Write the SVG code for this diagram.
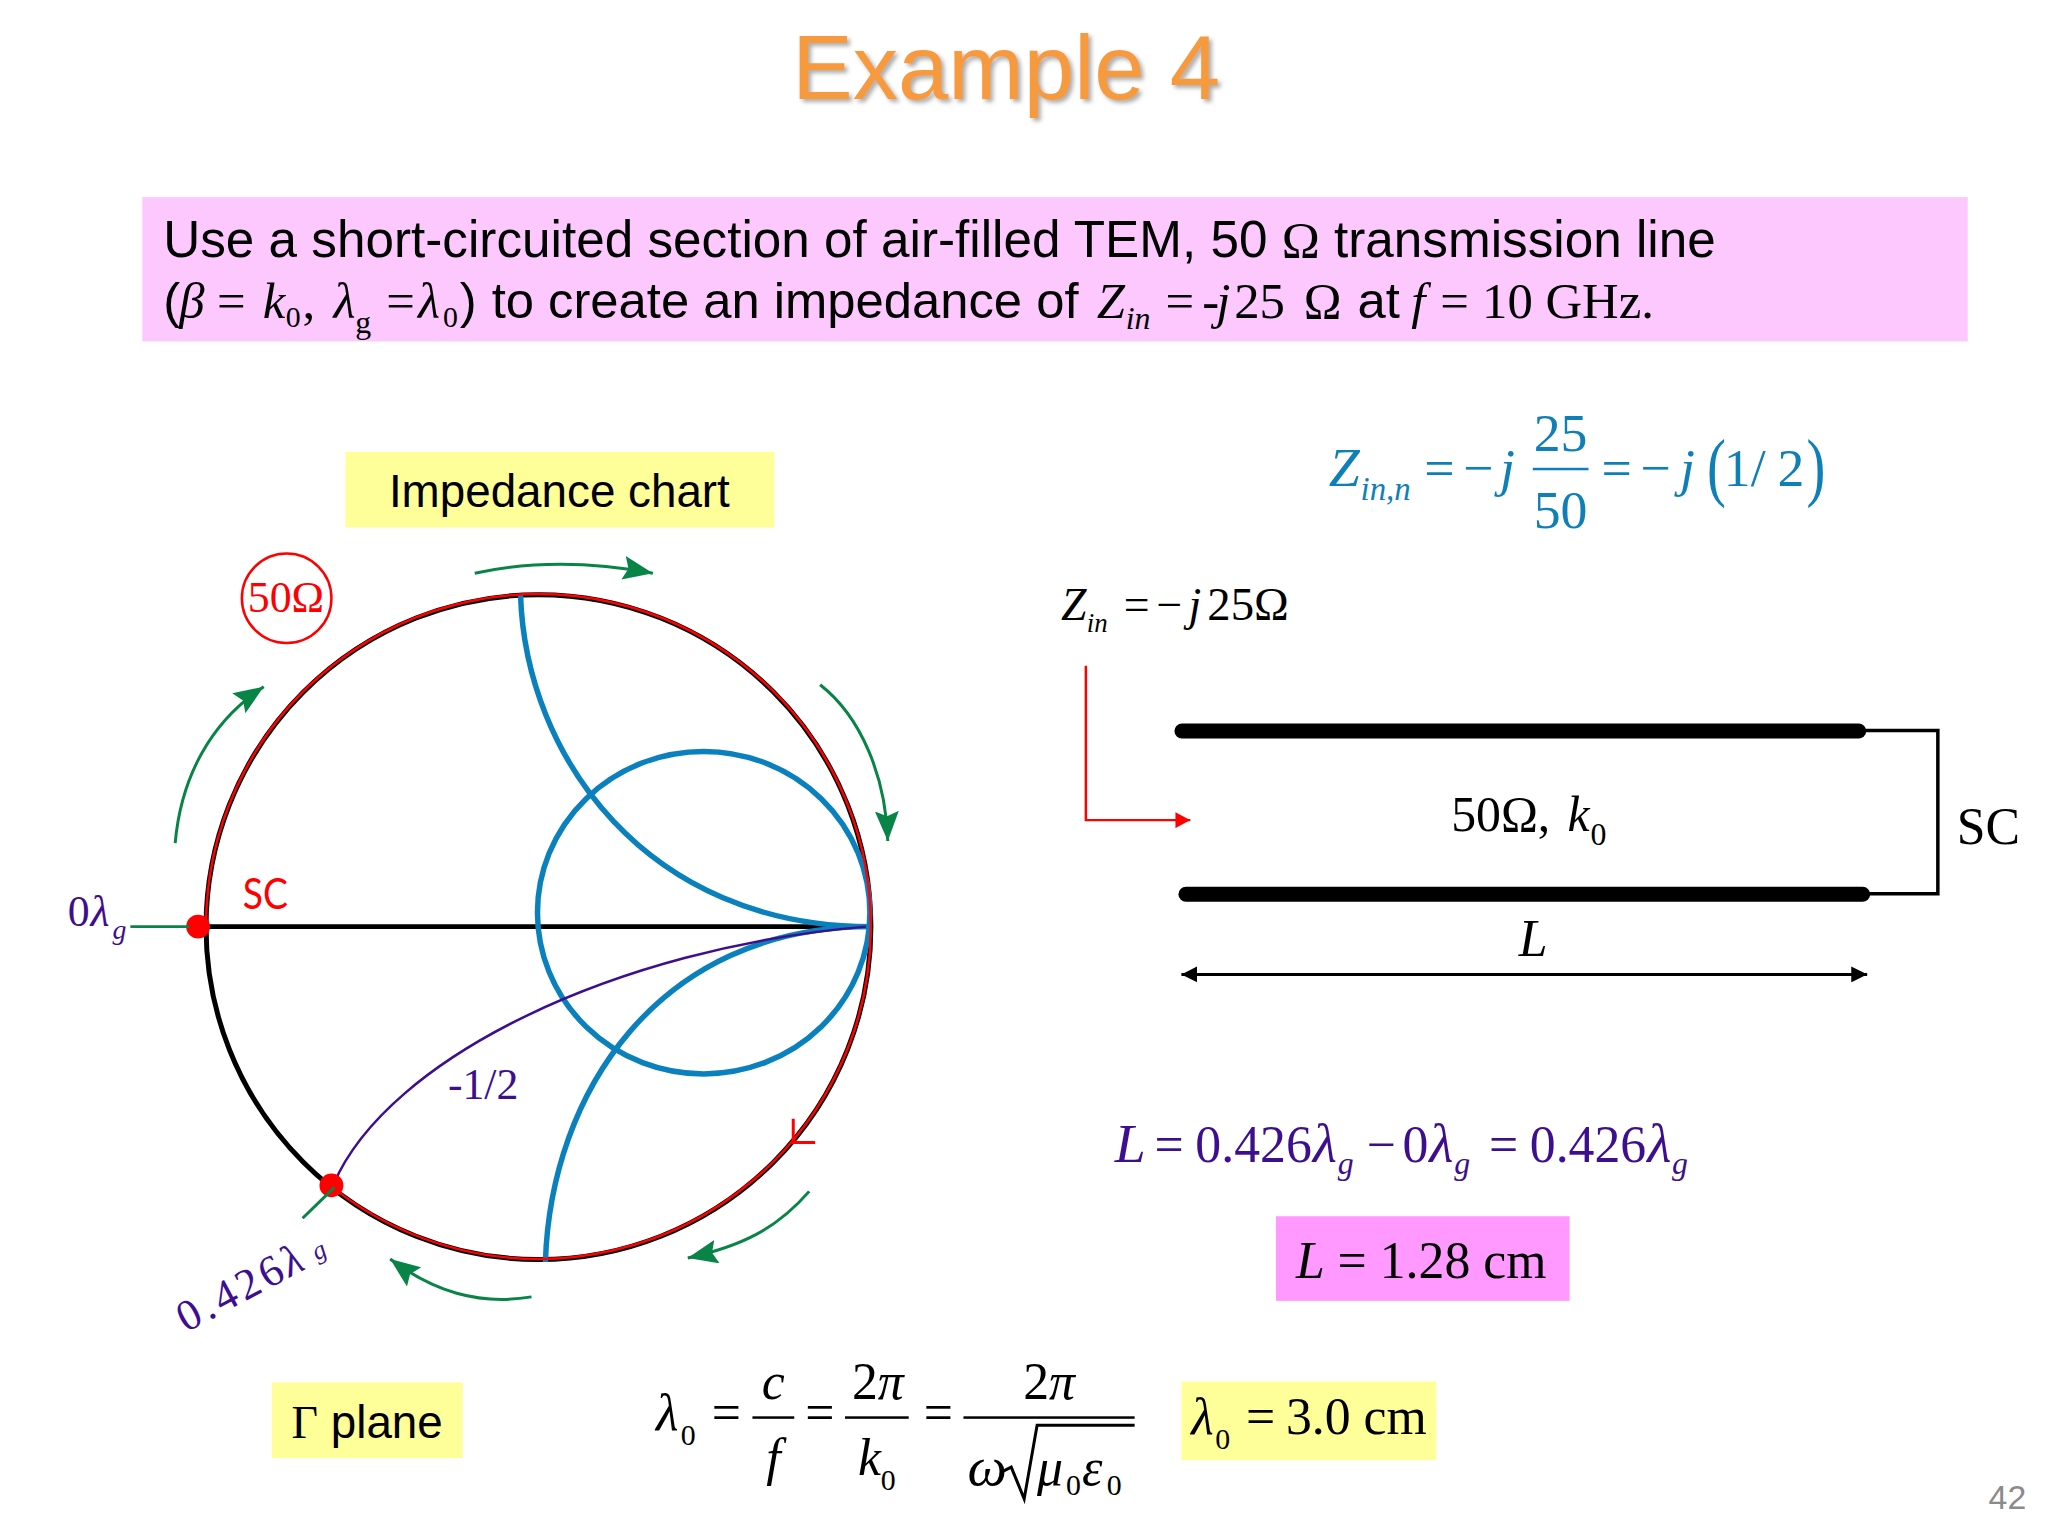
<svg xmlns="http://www.w3.org/2000/svg" width="2048" height="1536" viewBox="0 0 2048 1536">
<style>
.a{font-family:"Liberation Sans",Arial,sans-serif}
.s{font-family:"Liberation Serif","Times New Roman",serif}
.i{font-family:"Liberation Serif","Times New Roman",serif;font-style:italic}
.b{fill:#0f7fb8}.p{fill:#3d0f8f}.r{fill:#f00}
.g{fill:none;stroke:#078446;stroke-width:3}
.bl{fill:none;stroke:#0a80bc;stroke-width:5.5}
</style>
<defs>
<filter id="sh" x="-10%" y="-10%" width="120%" height="130%"><feDropShadow dx="3" dy="3" stdDeviation="2" flood-color="#888" flood-opacity=".7"/></filter>
<marker id="ga" markerUnits="userSpaceOnUse" markerWidth="30" markerHeight="24" refX="30" refY="12" orient="auto"><path d="M0 0L30 12L0 24L5 12z" fill="#078446"/></marker>
<marker id="ra" markerUnits="userSpaceOnUse" markerWidth="15" markerHeight="16" refX="15" refY="8" orient="auto"><path d="M0 0L15 8L0 16z" fill="#f00"/></marker>
<marker id="ke" markerUnits="userSpaceOnUse" markerWidth="16" markerHeight="16" refX="16" refY="8" orient="auto-start-reverse"><path d="M0 0L16 8L0 16z" fill="#000"/></marker>
</defs>
<rect width="2048" height="1536" fill="#fff"/>
<g transform="scale(.9953)">
<g id="title"><text class="a" x="1011" y="99" font-size="91" text-anchor="middle" fill="#f79a3e" filter="url(#sh)">Example 4</text></g>
<g id="problem">
<rect x="143" y="198" width="1834" height="145" fill="#fdc8fd"/>
<g font-size="51">
<text class="a" x="164" y="258" font-size="51.5">Use a short-circuited section of air-filled TEM, 50 <tspan class="s">Ω</tspan> transmission line</text>
<text class="a" x="164" y="319">(</text><text class="i" x="180" y="319">β</text><text class="s" x="218" y="319">=</text><text class="i" x="264" y="319">k</text>
<text class="s" x="287" y="329" font-size="30">0</text><text class="s" x="304" y="319">,</text><text class="i" x="335" y="319">λ</text><text class="s" x="357" y="335" font-size="32">g</text>
<text class="s" x="388" y="319">=</text><text class="i" x="420" y="319">λ</text><text class="s" x="445" y="329" font-size="30">0</text><text class="a" x="462" y="319">)</text>
<text class="a" x="494" y="319">to create an impedance of</text><text class="i" x="1102" y="319">Z</text><text class="i" x="1131" y="331" font-size="32">in</text>
<text class="s" x="1171" y="319">=</text><text class="s" x="1208" y="319">-</text><text class="i" x="1222" y="319">j</text><text class="s" x="1240" y="319">25</text><text class="s" x="1310" y="319">Ω</text>
<text class="a" x="1364" y="319">at</text><text class="i" x="1418" y="319">f</text><text class="s" x="1447" y="319">=</text><text class="s" x="1489" y="319">10 GHz.</text>
</g>
</g>
<g id="chart-label"><rect x="347" y="454" width="431" height="76" fill="#ffff99"/><text class="a" x="562" y="509" font-size="46" text-anchor="middle">Impedance chart</text></g>
<g id="gamma-label"><rect x="273" y="1389" width="192" height="76" fill="#ffff99"/><text x="293" y="1445" font-size="46"><tspan class="s">Γ</tspan><tspan class="a"> plane</tspan></text></g>
<g id="smith-chart">
<circle cx="541" cy="931.5" r="334" fill="none" stroke="#000" stroke-width="5"/>
<path d="M208 931H875" fill="none" stroke="#000" stroke-width="5"/>
<ellipse class="bl" cx="707" cy="917" rx="167" ry="162"/>
<path class="bl" d="M523 598C528 760 650 931 875 931"/>
<path class="bl" d="M548 1268C553 1100 660 931 875 931"/>
<path d="M335 1190C390 1062 620 952 870 931" fill="none" stroke="#3d0f8f" stroke-width="2.5"/>
<path d="M207 930A334 334 0 1 1 334 1193" fill="none" stroke="#f00" stroke-width="2.5"/>
<path d="M797 1124V1148H819" fill="none" stroke="#f00" stroke-width="3"/>
<circle cx="199" cy="931" r="12" fill="#f00"/><circle cx="333" cy="1191" r="12" fill="#f00"/>
</g>
<g id="chart-connectors">
<path class="g" d="M131 931H190"/><path class="g" d="M304 1224L336 1193"/>
<path class="g" marker-end="url(#ga)" d="M176 847C182 780 212 725 265 690"/>
<path class="g" marker-end="url(#ga)" d="M477 576Q560 558 656 576"/>
<path class="g" marker-end="url(#ga)" d="M824 688C865 720 890 780 892 845"/>
<path class="g" marker-end="url(#ga)" d="M813 1197C780 1235 745 1252 691 1264"/>
<path class="g" marker-end="url(#ga)" d="M534 1303C480 1312 435 1297 392 1265"/>
<path d="M1091 669V824H1196" fill="none" stroke="#f00" stroke-width="2.5" marker-end="url(#ra)"/>
<path d="M1187 979H1876" fill="none" stroke="#000" stroke-width="3" marker-start="url(#ke)" marker-end="url(#ke)"/>
</g>
<g id="chart-text">
<g id="ohm50"><circle cx="288" cy="601" r="45" fill="none" stroke="#f00" stroke-width="2.5"/><text class="s r" x="249" y="615" font-size="44">50Ω</text></g>
<text transform="translate(244 913) scale(.87 1)" font-size="43" fill="#f00" font-family="Lato,'Noto Sans',sans-serif">SC</text>
<text class="s p" x="450" y="1104" font-size="44">-1/2</text>
<text class="s p" x="68" y="930" font-size="44">0</text><text class="i p" x="91" y="930" font-size="44">λ</text><text class="i p" x="113" y="943" font-size="28">g</text>
<g transform="translate(187 1339) rotate(-28)"><text class="s p" font-size="44" letter-spacing="4">0.426</text><text class="i p" x="118" font-size="44">λ</text><text class="i p" x="150" y="-2" font-size="26">g</text></g>
</g>
<g id="formula-zn" font-size="54">
<text class="i b" x="1335" y="488" font-size="56">Z</text><text class="i b" x="1367" y="502" font-size="33">in,n</text>
<text class="s b" x="1431" y="488">=</text><text class="s b" x="1470" y="488">−</text><text class="i b" x="1507" y="488">j</text>
<text class="s b" x="1568" y="453" text-anchor="middle">25</text><text class="s b" x="1568" y="530" text-anchor="middle">50</text>
<rect x="1540" y="470" width="56" height="2.5" fill="#0f7fb8"/>
<text class="s b" x="1609" y="488">=</text><text class="s b" x="1648" y="488">−</text><text class="i b" x="1688" y="488">j</text>
<text class="s b" transform="translate(1715 494) scale(.75 1)" font-size="76">(</text><text class="s b" x="1732" y="488">1</text><text class="s b" x="1759" y="488">/</text><text class="s b" x="1786" y="488">2</text><text class="s b" transform="translate(1815 494) scale(.75 1)" font-size="76">)</text>
</g>
<g id="formula-zin" font-size="46">
<text class="i" x="1066" y="623">Z</text><text class="i" x="1092" y="635" font-size="27">in</text>
<text class="s" x="1129" y="623">=</text><text class="s" x="1162" y="623">−</text><text class="i" x="1194" y="623">j</text><text class="s" x="1213" y="623" font-size="47">25Ω</text>
</g>
<g id="tline">
<rect x="1180" y="727" width="695" height="15" rx="7.5"/>
<rect x="1184" y="891" width="695" height="15" rx="7.5"/>
<path d="M1870 734H1947V898H1875" fill="none" stroke="#000" stroke-width="3.5"/>
<text class="s" x="1966" y="848" font-size="52">SC</text>
<text class="s" x="1458" y="835" font-size="50">50Ω,</text><text class="i" x="1575" y="835" font-size="50">k</text><text class="s" x="1598" y="849" font-size="32">0</text>
<text class="i" x="1526" y="961" font-size="52">L</text>
</g>
<g id="formula-l" font-size="52">
<text class="i p" x="1120" y="1167" font-size="56">L</text><text class="s p" x="1160" y="1167">=</text><text class="s p" x="1201" y="1167">0.426</text><text class="i p" x="1319" y="1167" font-size="56">λ</text><text class="i p" x="1344" y="1180" font-size="32">g</text>
<text class="s p" x="1373" y="1167">−</text><text class="s p" x="1409" y="1167">0</text><text class="i p" x="1436" y="1167" font-size="56">λ</text><text class="i p" x="1461" y="1180" font-size="32">g</text>
<text class="s p" x="1496" y="1167">=</text><text class="s p" x="1537" y="1167">0.426</text><text class="i p" x="1655" y="1167" font-size="56">λ</text><text class="i p" x="1680" y="1180" font-size="32">g</text>
</g>
<g id="result-l"><rect x="1282" y="1222" width="295" height="85" fill="#ff99ff"/><text x="1302" y="1284" font-size="52" class="s"><tspan class="i">L</tspan> = 1.28 cm</text></g>
<g id="formula-lambda" font-size="52">
<text class="i" x="659" y="1437">λ</text><text class="s" x="684" y="1452" font-size="30">0</text><text class="s" x="715" y="1437">=</text>
<text class="i" x="777" y="1406" text-anchor="middle">c</text><rect x="756" y="1423" width="42" height="2.5"/><text class="i" x="777" y="1482" text-anchor="middle">f</text>
<text class="s" x="809" y="1437">=</text>
<text x="882" y="1406" text-anchor="middle"><tspan class="s">2</tspan><tspan class="i">π</tspan></text><rect x="849" y="1423" width="64" height="2.5"/><text class="i" x="862" y="1482">k</text><text class="s" x="885" y="1497" font-size="30">0</text>
<text class="s" x="928" y="1437">=</text>
<text x="1054" y="1406" text-anchor="middle"><tspan class="s">2</tspan><tspan class="i">π</tspan></text><rect x="968" y="1423" width="172" height="2.5"/>
<text class="i" x="972" y="1492" font-size="56">ω</text><path d="M1008 1478L1016 1474L1029 1506L1042 1432H1140" fill="none" stroke="#000" stroke-width="3"/>
<text class="i" x="1042" y="1492">μ</text><text class="s" x="1071" y="1502" font-size="30">0</text><text class="i" x="1087" y="1492">ε</text><text class="s" x="1112" y="1502" font-size="30">0</text>
</g>
<g id="result-lambda"><rect x="1187" y="1388" width="256" height="79" fill="#ffff99"/>
<text class="i" x="1197" y="1441" font-size="52">λ</text><text class="s" x="1221" y="1456" font-size="30">0</text><text class="s" x="1252" y="1441" font-size="52">=</text><text class="s" x="1292" y="1441" font-size="52">3.0 cm</text></g>
<text id="page" class="a" x="1998" y="1516" font-size="34" fill="#8b8b8b">42</text>
</g>
</svg>
